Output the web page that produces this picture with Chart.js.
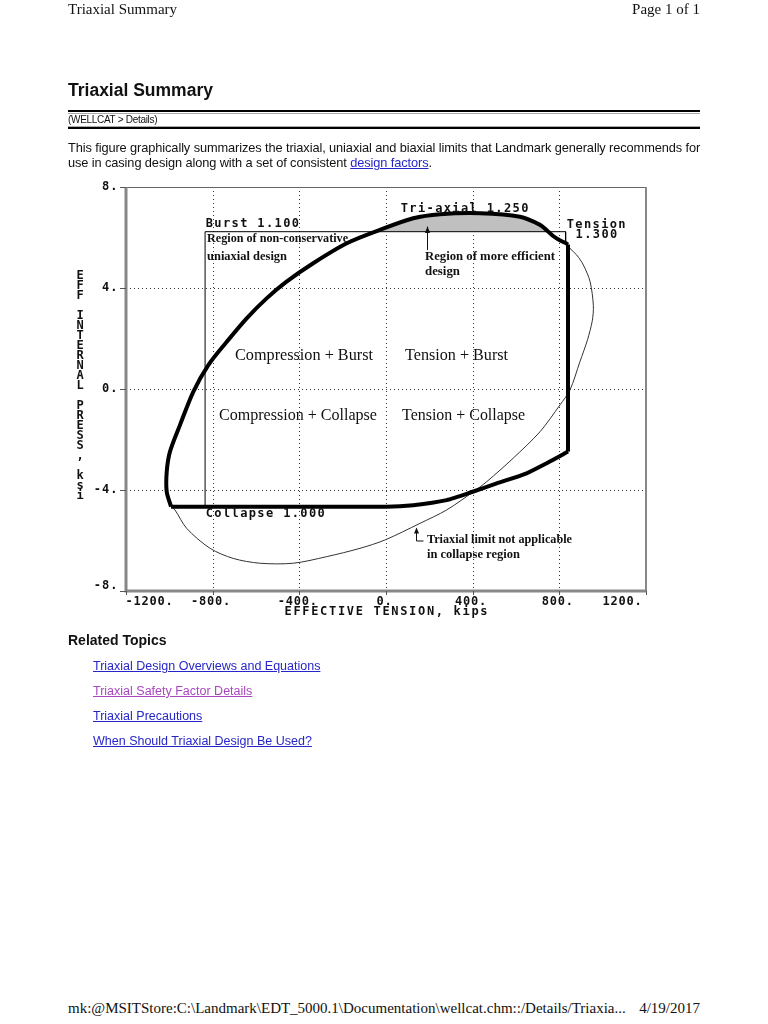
<!DOCTYPE html>
<html>
<head>
<meta charset="utf-8">
<script src="https://cdn.jsdelivr.net/npm/chart.js@4.4.1/dist/chart.umd.min.js"></script>
<style>
  html, body { margin: 0; padding: 0; background: #fff; }
  body { width: 768px; height: 1024px; position: relative; overflow: hidden; color: #111; }
  .abs { position: absolute; white-space: nowrap; }
  .serif { font-family: "Liberation Serif", "DejaVu Serif", serif; }
  .sans { font-family: "Liberation Sans", Arial, sans-serif; }
  a { text-decoration: underline; }
  .lnk { color: #2626c8; }
  .vis { color: #a848c0; }
  #grafico { position: absolute; left: 0; top: 0; }
</style>
</head>
<body>
<canvas id="grafico" width="768" height="640"></canvas>

<div class="abs serif" style="left:68px; top:0px; font-size:15px; line-height:18px;">Triaxial Summary</div>
<div class="abs serif" style="right:68px; top:0px; font-size:15px; line-height:18px;">Page 1 of 1</div>

<div class="abs sans" style="left:68px; top:80px; font-size:17.5px; line-height:20px; font-weight:bold;">Triaxial Summary</div>

<div class="abs" style="left:68px; top:110px; width:632px; height:2px; background:#000;"></div>
<div class="abs" style="left:68px; top:113px; width:632px; height:1px; background:#aaa;"></div>
<div class="abs sans" style="left:68px; top:113px; font-size:10px; line-height:13px; letter-spacing:-0.3px;">(WELLCAT &gt; Details)</div>
<div class="abs" style="left:68px; top:126px; width:632px; height:1px; background:#aaa;"></div>
<div class="abs" style="left:68px; top:127px; width:632px; height:2px; background:#000;"></div>

<div class="abs sans" style="left:68px; top:140px; font-size:12.8px; line-height:15px; letter-spacing:-0.1px;">This figure graphically summarizes the triaxial, uniaxial and biaxial limits that Landmark generally recommends for<br>use in casing design along with a set of consistent <a class="lnk">design factors</a>.</div>

<div class="abs sans" style="left:68px; top:631px; font-size:14px; line-height:18px; font-weight:bold;">Related Topics</div>
<div class="abs sans" style="left:93px; top:658px; font-size:12.5px; line-height:16px;"><a class="lnk">Triaxial Design Overviews and Equations</a></div>
<div class="abs sans" style="left:93px; top:683px; font-size:12.5px; line-height:16px;"><a class="vis">Triaxial Safety Factor Details</a></div>
<div class="abs sans" style="left:93px; top:708px; font-size:12.5px; line-height:16px;"><a class="lnk">Triaxial Precautions</a></div>
<div class="abs sans" style="left:93px; top:733px; font-size:12.5px; line-height:16px;"><a class="lnk">When Should Triaxial Design Be Used?</a></div>

<div class="abs serif" style="left:68px; top:999px; font-size:15px; line-height:18px;">mk:@MSITStore:C:\Landmark\EDT_5000.1\Documentation\wellcat.chm::/Details/Triaxia...</div>
<div class="abs serif" style="right:68px; top:999px; font-size:15px; line-height:18px;">4/19/2017</div>

<script>
// axis ticks
var xTicks = [-1200, -800, -400, 0, 400, 800, 1200];
var yTicks = [8, 4, 0, -4, -8];
var xTickLabels = ['-1200.', '-800.', '-400.', '0.', '400.', '800.', '1200.'];
var yTickLabels = ['8.', '4.', '0.', '-4.', '-8.'];

// design factor limits (ksi / kips)
var burstLimit = 6.23;
var collapseLimit = -4.66;
var tensionLimit = 840;

// triaxial 1.250 envelope used for design (thick), from tension line round to collapse line
var triX = [840, 829, 800, 773, 745, 711, 618, 434, 249, 126, -28, -181, -336, -459, -551, -643, -735, -820, -889, -951, -997, -1012, -1012, -992];
var triY = [5.72, 5.78, 5.9, 6.05, 6.26, 6.5, 6.82, 6.96, 6.92, 6.76, 6.3, 5.77, 4.98, 4.25, 3.59, 2.8, 1.87, 0.95, -0.1, -1.43, -2.48, -3.27, -4.07, -4.66];

// collapse limit with tension (thick, bottom)
var colX = [-992, 0, 126, 280, 400, 511, 649, 742, 840];
var colY = [-4.66, -4.66, -4.6, -4.4, -4.07, -3.74, -3.34, -2.94, -2.48];

// tension limit (thick, vertical)
var tenX = [840, 840];
var tenY = [-2.48, 5.72];

// rest of the triaxial ellipse (thin)
var ellX = [-992, -974, -920, -812, -705, -582, -428, -274, -120, -5, 157, 280, 403, 465, 587, 711, 803, 849, 895, 930, 952, 957, 942, 911, 880, 849, 840];
var ellY = [-4.66, -4.79, -5.52, -6.31, -6.71, -6.9, -6.9, -6.64, -6.31, -5.98, -5.32, -4.79, -4.07, -3.67, -2.74, -1.69, -0.63, -0.04, 1.08, 1.95, 2.7, 3.3, 4.25, 4.91, 5.31, 5.57, 5.72];

// uniaxial box (thin)
var boxX = [-835, -835, 829, 829];
var boxY = [collapseLimit, burstLimit, burstLimit, 5.78];

// shaded region of more efficient design
var shadeX = [-20, -5, 126, 249, 434, 618, 711, 750];
var shadeY = [6.23, 6.33, 6.76, 6.92, 6.96, 6.82, 6.5, 6.23];

function pts(xs, ys) {
    return xs.map(function (x, i) { return { x: x, y: ys[i] }; });
}

var mono = 'bold 12px "DejaVu Sans Mono", monospace';
var notes = [
    { t: 'Burst 1.100', x: -835, y: 6.40, f: mono, mono: true },
    { t: 'Tri-axial 1.250', x: 65, y: 7.02, f: mono, mono: true },
    { t: 'Tension', x: 831, y: 6.36, f: mono, mono: true },
    { t: '1.300', x: 872, y: 5.97, f: mono, mono: true },
    { t: 'Collapse 1.000', x: -835, y: -5.06, f: mono, mono: true },
    { t: 'Region of non-conservative', x: -826, y: 5.82, f: 'bold 13px "Liberation Serif"', w: 141 },
    { t: 'uniaxial design', x: -826, y: 5.11, f: 'bold 13px "Liberation Serif"', w: 80 },
    { t: 'Region of more efficient', x: 180, y: 5.11, f: 'bold 13px "Liberation Serif"', w: 130 },
    { t: 'design', x: 180, y: 4.51, f: 'bold 13px "Liberation Serif"', w: 35 },
    { t: 'Triaxial limit not applicable', x: 189, y: -6.1, f: 'bold 13px "Liberation Serif"', w: 145 },
    { t: 'in collapse region', x: 189, y: -6.69, f: 'bold 13px "Liberation Serif"', w: 93 },
    { t: 'Compression + Burst', x: -697, y: 1.15, f: '16px "Liberation Serif"', w: 138 },
    { t: 'Tension + Burst', x: 88, y: 1.15, f: '16px "Liberation Serif"', w: 103 },
    { t: 'Compression + Collapse', x: -771, y: -1.23, f: '16px "Liberation Serif"', w: 158 },
    { t: 'Tension + Collapse', x: 74, y: -1.23, f: '16px "Liberation Serif"', w: 123 }
];

function monoText(c, text, x, y, adv, align) {
    var w = text.length * adv;
    var x0 = align === 'right' ? x - w : (align === 'center' ? x - w / 2 : x);
    c.textAlign = 'center';
    for (var i = 0; i < text.length; i++) {
        c.fillText(text[i], x0 + adv * i + adv / 2, y);
    }
}

function fitText(c, text, x, y, w) {
    var m = c.measureText(text).width;
    c.save();
    c.translate(x, y);
    c.scale(w / m, 1);
    c.textAlign = 'left';
    c.fillText(text, 0, 0);
    c.restore();
}

var gridPlugin = {
    id: 'grid',
    beforeDatasetsDraw: function (chart) {
        var c = chart.ctx, a = chart.chartArea, sx = chart.scales.x, sy = chart.scales.y;
        c.save();
        c.strokeStyle = '#333';
        c.lineWidth = 1;
        c.setLineDash([1, 3]);
        xTicks.slice(1, -1).forEach(function (v) {
            var px = Math.round(sx.getPixelForValue(v)) + 0.5;
            c.beginPath(); c.moveTo(px, a.top); c.lineTo(px, a.bottom); c.stroke();
        });
        yTicks.slice(1, -1).forEach(function (v) {
            var py = Math.round(sy.getPixelForValue(v)) + 0.5;
            c.beginPath(); c.moveTo(a.left, py); c.lineTo(a.right, py); c.stroke();
        });
        c.restore();
    },
    afterDatasetsDraw: function (chart) {
        var c = chart.ctx, a = chart.chartArea, sx = chart.scales.x, sy = chart.scales.y;
        c.save();
        // frame
        c.strokeStyle = '#666';
        c.lineWidth = 1;
        c.beginPath(); c.moveTo(a.left, a.top + 0.5); c.lineTo(a.right, a.top + 0.5); c.stroke();
        c.strokeStyle = '#888';
        c.lineWidth = 2;
        c.beginPath(); c.moveTo(a.right, a.top); c.lineTo(a.right, a.bottom); c.stroke();
        c.lineWidth = 3;
        c.beginPath(); c.moveTo(a.left, a.top); c.lineTo(a.left, a.bottom); c.lineTo(a.right, a.bottom); c.stroke();
        // tick marks
        c.lineWidth = 1;
        c.strokeStyle = '#555';
        yTicks.forEach(function (v) {
            var py = Math.round(sy.getPixelForValue(v)) + 0.5;
            c.beginPath(); c.moveTo(a.left - 6, py); c.lineTo(a.left, py); c.stroke();
        });
        xTicks.forEach(function (v) {
            var px = Math.round(sx.getPixelForValue(v)) + 0.5;
            c.beginPath(); c.moveTo(px, a.bottom); c.lineTo(px, a.bottom + 4); c.stroke();
        });
        // tick labels
        c.fillStyle = '#111';
        c.font = mono;
        c.textBaseline = 'middle';
        yTicks.forEach(function (v, i) {
            var py = Math.min(sy.getPixelForValue(v), a.bottom - 5);
            monoText(c, yTickLabels[i], a.left - 8, py, 8.3, 'right');
        });
        xTicks.forEach(function (v, i) {
            var lab = xTickLabels[i], w = lab.length * 8;
            var px = sx.getPixelForValue(v) - 2;
            px = Math.max(a.left - 1 + w / 2, Math.min(a.right - 4 - w / 2, px));
            monoText(c, lab, px, a.bottom + 11, 8, 'center');
        });
        // axis titles
        monoText(c, 'EFFECTIVE TENSION, kips', sx.getPixelForValue(0), a.bottom + 21, 8.9, 'center');
        var yt = ['E', 'F', 'F', ' ', 'I', 'N', 'T', 'E', 'R', 'N', 'A', 'L', ' ', 'P', 'R', 'E', 'S', 'S', ',', ' ', 'k', 's', 'i'];
        c.textAlign = 'center';
        yt.forEach(function (ch, i) {
            c.fillText(ch, a.left - 46, sy.getPixelForValue(4) - 12 + i * 10);
        });
        // annotations
        c.textBaseline = 'alphabetic';
        notes.forEach(function (n) {
            c.font = n.f;
            var px = sx.getPixelForValue(n.x), py = sy.getPixelForValue(n.y);
            if (n.mono) monoText(c, n.t, px, py, 8.6, 'left');
            else fitText(c, n.t, px, py, n.w);
        });
        // arrow to shaded region
        c.strokeStyle = '#111';
        c.fillStyle = '#111';
        c.lineWidth = 1;
        var ax = Math.round(sx.getPixelForValue(189)) + 0.5;
        var ay1 = sy.getPixelForValue(5.5), ay0 = sy.getPixelForValue(6.42);
        c.beginPath(); c.moveTo(ax, ay1); c.lineTo(ax, ay0); c.stroke();
        c.beginPath(); c.moveTo(ax, ay0 - 1); c.lineTo(ax - 2.5, ay0 + 6); c.lineTo(ax + 2.5, ay0 + 6); c.closePath(); c.fill();
        // L-shaped arrow to thin ellipse
        var bx = Math.round(sx.getPixelForValue(137)) + 0.5;
        var by0 = sy.getPixelForValue(-5.52), by1 = sy.getPixelForValue(-6.02);
        c.beginPath(); c.moveTo(bx + 7, by1); c.lineTo(bx, by1); c.lineTo(bx, by0); c.stroke();
        c.beginPath(); c.moveTo(bx, by0 - 1); c.lineTo(bx - 2.5, by0 + 5); c.lineTo(bx + 2.5, by0 + 5); c.closePath(); c.fill();
        c.restore();
    }
};

var ctx = document.querySelector('#grafico').getContext('2d');
var chart = new Chart(ctx, {
    type: 'scatter',
    data: {
        datasets: [
            { data: pts(triX, triY), showLine: true, borderColor: '#000', borderWidth: 4, tension: 0.3, fill: false },
            { data: pts(colX, colY), showLine: true, borderColor: '#000', borderWidth: 4, tension: 0.2, fill: false },
            { data: pts(tenX, tenY), showLine: true, borderColor: '#000', borderWidth: 4, tension: 0, fill: false },
            { data: pts(boxX, boxY), showLine: true, borderColor: '#000', borderWidth: 1, tension: 0, fill: false },
            { data: pts(ellX, ellY), showLine: true, borderColor: '#333', borderWidth: 1, tension: 0.3, fill: false },
            { data: pts(shadeX, shadeY), showLine: true, borderWidth: 0, borderColor: 'rgba(0,0,0,0)', backgroundColor: '#c0c0c0', tension: 0.3, fill: { value: burstLimit } }
        ]
    },
    options: {
        responsive: false,
        animation: false,
        layout: { padding: { left: 126, top: 187, right: 122, bottom: 49 } },
        elements: { point: { radius: 0, hoverRadius: 0 }, line: { borderCapStyle: 'butt', borderJoinStyle: 'round' } },
        plugins: { legend: { display: false }, tooltip: { enabled: false } },
        scales: {
            x: { type: 'linear', min: -1200, max: 1200, display: false },
            y: { type: 'linear', min: -8, max: 8, display: false }
        }
    },
    plugins: [gridPlugin]
});
</script>
</body>
</html>
